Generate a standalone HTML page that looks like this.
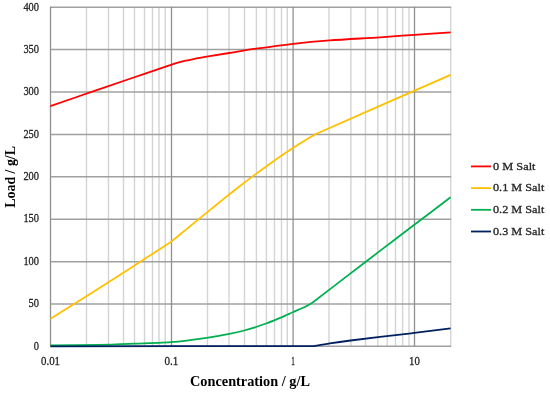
<!DOCTYPE html>
<html><head><meta charset="utf-8"><style>
html,body{margin:0;padding:0;background:#fff;}
body{width:550px;height:394px;overflow:hidden;}
svg{display:block;}
text{font-family:"Liberation Serif",serif;fill:#262626;stroke:#262626;stroke-width:0.3px;}
.ttl{stroke:none;}
.tick{font-size:12px;}
.ttl{font-size:14px;font-weight:bold;fill:#000;}
.leg{font-size:11.2px;}
</style></head><body>
<svg width="550" height="394" viewBox="0 0 550 394">
<rect width="550" height="394" fill="#fff"/>
<g stroke-width="1">
<line x1="86.50" y1="7.30" x2="86.50" y2="346.30" stroke="#d4d4d4" stroke-width="1.4"/>
<line x1="108.50" y1="7.30" x2="108.50" y2="346.30" stroke="#d4d4d4" stroke-width="1.4"/>
<line x1="123.50" y1="7.30" x2="123.50" y2="346.30" stroke="#d4d4d4" stroke-width="1.4"/>
<line x1="134.50" y1="7.30" x2="134.50" y2="346.30" stroke="#d4d4d4" stroke-width="1.4"/>
<line x1="144.50" y1="7.30" x2="144.50" y2="346.30" stroke="#d4d4d4" stroke-width="1.4"/>
<line x1="152.50" y1="7.30" x2="152.50" y2="346.30" stroke="#d4d4d4" stroke-width="1.4"/>
<line x1="159.00" y1="7.30" x2="159.00" y2="346.30" stroke="#d4d4d4" stroke-width="1.4"/>
<line x1="165.20" y1="7.30" x2="165.20" y2="346.30" stroke="#d4d4d4" stroke-width="1.4"/>
<line x1="207.50" y1="7.30" x2="207.50" y2="346.30" stroke="#d4d4d4" stroke-width="1.4"/>
<line x1="229.00" y1="7.30" x2="229.00" y2="346.30" stroke="#d4d4d4" stroke-width="1.4"/>
<line x1="244.50" y1="7.30" x2="244.50" y2="346.30" stroke="#d4d4d4" stroke-width="1.4"/>
<line x1="256.40" y1="7.30" x2="256.40" y2="346.30" stroke="#d4d4d4" stroke-width="1.4"/>
<line x1="266.40" y1="7.30" x2="266.40" y2="346.30" stroke="#d4d4d4" stroke-width="1.4"/>
<line x1="274.50" y1="7.30" x2="274.50" y2="346.30" stroke="#d4d4d4" stroke-width="1.4"/>
<line x1="281.50" y1="7.30" x2="281.50" y2="346.30" stroke="#d4d4d4" stroke-width="1.4"/>
<line x1="287.30" y1="7.30" x2="287.30" y2="346.30" stroke="#d4d4d4" stroke-width="1.4"/>
<line x1="329.00" y1="7.30" x2="329.00" y2="346.30" stroke="#d4d4d4" stroke-width="1.4"/>
<line x1="350.90" y1="7.30" x2="350.90" y2="346.30" stroke="#d4d4d4" stroke-width="1.4"/>
<line x1="365.50" y1="7.30" x2="365.50" y2="346.30" stroke="#d4d4d4" stroke-width="1.4"/>
<line x1="377.80" y1="7.30" x2="377.80" y2="346.30" stroke="#d4d4d4" stroke-width="1.4"/>
<line x1="387.20" y1="7.30" x2="387.20" y2="346.30" stroke="#d4d4d4" stroke-width="1.4"/>
<line x1="395.50" y1="7.30" x2="395.50" y2="346.30" stroke="#d4d4d4" stroke-width="1.4"/>
<line x1="402.60" y1="7.30" x2="402.60" y2="346.30" stroke="#d4d4d4" stroke-width="1.4"/>
<line x1="409.00" y1="7.30" x2="409.00" y2="346.30" stroke="#d4d4d4" stroke-width="1.4"/>
<line x1="450.70" y1="7.30" x2="450.70" y2="346.30" stroke="#d4d4d4" stroke-width="1.4"/>
<line x1="50.00" y1="346.30" x2="451.20" y2="346.30" stroke="#a0a0a0" stroke-width="1.5"/>
<line x1="50.00" y1="304.00" x2="451.20" y2="304.00" stroke="#a0a0a0" stroke-width="1.5"/>
<line x1="50.00" y1="261.70" x2="451.20" y2="261.70" stroke="#a0a0a0" stroke-width="1.5"/>
<line x1="50.00" y1="219.20" x2="451.20" y2="219.20" stroke="#a0a0a0" stroke-width="1.5"/>
<line x1="50.00" y1="176.80" x2="451.20" y2="176.80" stroke="#a0a0a0" stroke-width="1.5"/>
<line x1="50.00" y1="134.40" x2="451.20" y2="134.40" stroke="#a0a0a0" stroke-width="1.5"/>
<line x1="50.00" y1="92.00" x2="451.20" y2="92.00" stroke="#a0a0a0" stroke-width="1.5"/>
<line x1="50.00" y1="49.50" x2="451.20" y2="49.50" stroke="#a0a0a0" stroke-width="1.5"/>
<line x1="50.00" y1="7.30" x2="451.20" y2="7.30" stroke="#a0a0a0" stroke-width="1.5"/>
<line x1="50.50" y1="6.80" x2="50.50" y2="346.30" stroke="#909090" stroke-width="1.3"/>
<line x1="171.50" y1="6.80" x2="171.50" y2="346.30" stroke="#909090" stroke-width="1.3"/>
<line x1="293.10" y1="6.80" x2="293.10" y2="346.30" stroke="#909090" stroke-width="1.3"/>
<line x1="414.50" y1="6.80" x2="414.50" y2="346.30" stroke="#909090" stroke-width="1.3"/>
</g>
<g fill="none" stroke-width="1.8" stroke-linejoin="round" stroke-linecap="butt">
<path d="M50.30,106.17 C56.92,103.88 76.72,97.00 90.00,92.43 C103.28,87.86 116.40,83.37 130.00,78.74 C143.60,74.11 164.67,67.01 171.60,64.66 C172.50,64.36 174.85,63.50 177.00,62.88 C179.15,62.26 181.73,61.57 184.50,60.93 C187.27,60.29 189.65,59.77 193.60,59.02 C197.55,58.28 202.27,57.46 208.20,56.46 C214.13,55.46 221.23,54.29 229.20,53.00 C237.17,51.71 245.32,50.25 256.00,48.71 C266.68,47.17 281.05,45.17 293.30,43.79 C305.55,42.41 315.05,41.50 329.50,40.42 C343.95,39.34 365.87,38.22 380.00,37.29 C394.13,36.36 402.53,35.66 414.30,34.85 C426.07,34.04 444.55,32.85 450.60,32.45" stroke="#ff0000"/>
<path d="M50.50,318.73 C57.08,314.61 76.75,302.39 90.00,294.01 C103.25,285.63 116.40,277.24 130.00,268.47 C143.60,259.70 164.67,245.91 171.60,241.40 C173.00,240.26 176.93,237.06 180.00,234.54 C183.07,232.02 186.67,229.05 190.00,226.31 C193.33,223.57 196.33,221.10 200.00,218.10 C203.67,215.10 207.83,211.69 212.00,208.32 C216.17,204.95 220.33,201.58 225.00,197.87 C229.67,194.16 235.00,189.94 240.00,186.07 C245.00,182.20 250.00,178.37 255.00,174.64 C260.00,170.91 265.00,167.23 270.00,163.67 C275.00,160.10 280.00,156.62 285.00,153.25 C290.00,149.88 295.03,146.60 300.00,143.48 C304.97,140.35 312.33,136.00 314.80,134.50 C337.43,124.56 427.97,84.81 450.60,74.87" stroke="#ffc000"/>
<path d="M50.50,345.40 C58.42,345.32 84.02,345.18 98.00,344.90 C111.98,344.62 122.28,344.17 134.40,343.70 C146.52,343.23 161.43,342.68 170.70,342.10 C179.97,341.52 183.75,340.93 190.00,340.20 C196.25,339.47 201.67,338.75 208.20,337.70 C214.73,336.65 223.18,335.10 229.20,333.90 C235.22,332.70 239.83,331.65 244.30,330.50 C248.77,329.35 252.35,328.17 256.00,327.00 C259.65,325.83 263.17,324.60 266.20,323.50 C269.23,322.40 271.65,321.42 274.20,320.40 C276.75,319.38 279.33,318.33 281.50,317.40 C283.67,316.47 285.23,315.70 287.20,314.80 C289.17,313.90 290.48,313.25 293.30,312.00 C296.12,310.75 300.93,308.83 304.10,307.30 C307.27,305.77 310.93,303.55 312.30,302.80 C317.75,298.61 333.72,286.31 345.00,277.66 C356.28,269.01 368.50,259.65 380.00,250.88 C391.50,242.11 402.23,233.94 414.00,225.02 C425.77,216.10 444.50,201.95 450.60,197.34" stroke="#00b050"/>
<path d="M50.50,346.30 C94.38,346.27 269.92,346.13 313.80,346.10 C316.47,345.65 323.67,344.33 329.80,343.40 C335.93,342.47 342.23,341.58 350.60,340.50 C358.97,339.42 369.38,338.17 380.00,336.90 C390.62,335.63 402.53,334.32 414.30,332.90 C426.07,331.48 444.55,329.15 450.60,328.40" stroke="#002060"/>
</g>
<g class="tick">
<text x="39.0" y="349.6" text-anchor="end" textLength="5.20" lengthAdjust="spacingAndGlyphs">0</text>
<text x="39.0" y="307.2" text-anchor="end" textLength="10.40" lengthAdjust="spacingAndGlyphs">50</text>
<text x="39.0" y="264.9" text-anchor="end" textLength="15.60" lengthAdjust="spacingAndGlyphs">100</text>
<text x="39.0" y="222.4" text-anchor="end" textLength="15.60" lengthAdjust="spacingAndGlyphs">150</text>
<text x="39.0" y="180.1" text-anchor="end" textLength="15.60" lengthAdjust="spacingAndGlyphs">200</text>
<text x="39.0" y="137.7" text-anchor="end" textLength="15.60" lengthAdjust="spacingAndGlyphs">250</text>
<text x="39.0" y="95.2" text-anchor="end" textLength="15.60" lengthAdjust="spacingAndGlyphs">300</text>
<text x="39.0" y="52.8" text-anchor="end" textLength="15.60" lengthAdjust="spacingAndGlyphs">350</text>
<text x="39.0" y="10.6" text-anchor="end" textLength="15.60" lengthAdjust="spacingAndGlyphs">400</text>
<text x="50.5" y="365.1" text-anchor="middle" textLength="19.00" lengthAdjust="spacingAndGlyphs">0.01</text>
<text x="171.5" y="365.1" text-anchor="middle" textLength="13.80" lengthAdjust="spacingAndGlyphs">0.1</text>
<text x="293.1" y="365.1" text-anchor="middle" textLength="3.60" lengthAdjust="spacingAndGlyphs">1</text>
<text x="414.5" y="365.1" text-anchor="middle" textLength="10.80" lengthAdjust="spacingAndGlyphs">10</text>
</g>
<text class="ttl" x="250.0" y="386.2" text-anchor="middle" textLength="120.00" lengthAdjust="spacingAndGlyphs">Concentration / g/L</text>
<text class="ttl" transform="translate(15.4,176.85) rotate(-90)" text-anchor="middle" textLength="61.60" lengthAdjust="spacingAndGlyphs">Load / g/L</text>
<g class="leg">
<line x1="471" y1="166.4" x2="491" y2="166.4" stroke="#ff0000" stroke-width="1.8"/>
<text x="493.0" y="169.7" textLength="42.50" lengthAdjust="spacingAndGlyphs">0 M Salt</text>
<line x1="471" y1="188.1" x2="491" y2="188.1" stroke="#ffc000" stroke-width="1.8"/>
<text x="493.0" y="191.4" textLength="51.30" lengthAdjust="spacingAndGlyphs">0.1 M Salt</text>
<line x1="471" y1="209.8" x2="491" y2="209.8" stroke="#00b050" stroke-width="1.8"/>
<text x="493.0" y="213.1" textLength="51.30" lengthAdjust="spacingAndGlyphs">0.2 M Salt</text>
<line x1="471" y1="231.5" x2="491" y2="231.5" stroke="#002060" stroke-width="1.8"/>
<text x="493.0" y="234.8" textLength="51.30" lengthAdjust="spacingAndGlyphs">0.3 M Salt</text>
</g>
</svg>
</body></html>
